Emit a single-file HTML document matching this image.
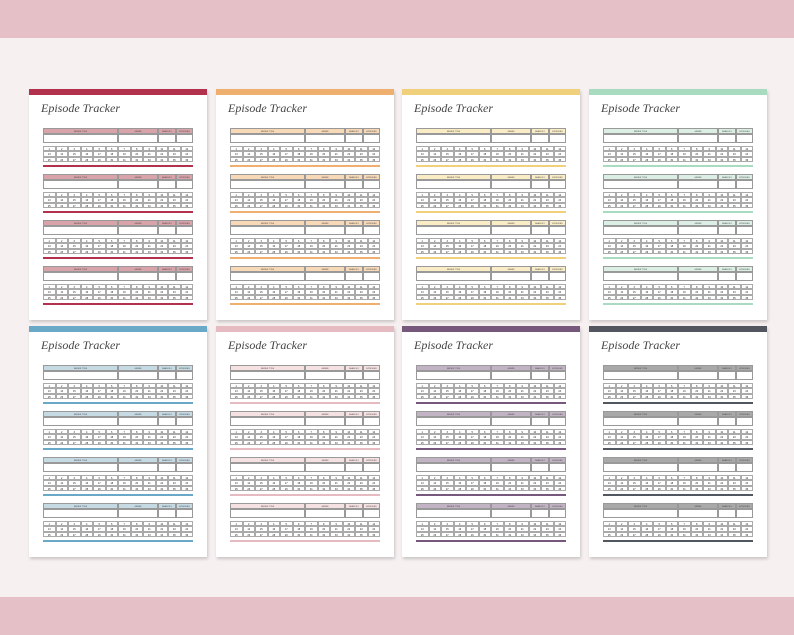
<!DOCTYPE html>
<html><head><meta charset="utf-8"><style>
body{margin:0;width:794px;height:635px;overflow:hidden;background:#f6f0f0;position:relative;font-family:"Liberation Sans",sans-serif}
.band{position:absolute;left:0;width:794px;background:#e5c1c7}
.page{position:absolute;width:178px;height:231px;background:#fff;box-shadow:1px 2px 3px rgba(0,0,0,.18)}
.stripe{position:absolute;left:0;top:0;width:178px;height:6px}
.ttl{position:absolute;left:12px;top:12px;font-family:"Liberation Serif",serif;font-style:italic;font-size:12px;color:#444}
.blk{position:absolute;left:14px;width:150px}
.hdr{position:absolute;top:0;height:6px;font-size:2px;color:#444;text-align:center;line-height:6px;box-sizing:border-box;border:0.5px solid #999}
.inp{position:absolute;top:6px;height:9px;box-sizing:border-box;border:0.5px solid #999;background:#fff}
.cell{position:absolute;height:5.3px;width:12.5px;box-sizing:border-box;border:0.5px solid #aaa;font-size:2.5px;text-align:center;line-height:5px;color:#222}
.ln{position:absolute;left:0;width:150px;height:1.5px;top:37px}
</style></head><body>
<div class="band" style="top:0;height:38px"></div>
<div class="band" style="top:597px;height:38px"></div>
<script>
const pageColors=[["#b2324d","#d9a3aa"],["#efaf6f","#f7d8b7"],["#f1d07b","#faecc5"],["#a8dbbf","#dcefe4"],["#69a8c7","#c5dae3"],["#e6bac1","#f5e1e2"],["#76587c","#c2b3c4"],["#52565e","#a9a9a9"]];
const xs=[29,216,402,589], ys=[89,326];
const cols=[[0,75,"SERIES TITLE"],[75,115,"GENRE"],[115,133,"SEASON #"],[133,150,"EPISODES"]];
pageColors.forEach((c,i)=>{
 const p=document.createElement('div');p.className='page';
 
 
 p.style.left=xs[i%4]+'px';p.style.top=ys[Math.floor(i/4)]+'px';
 let h='<div class="stripe" style="background:'+c[0]+'"></div><div class="ttl">Episode Tracker</div>';
 for(let b=0;b<4;b++){
  h+='<div class="blk" style="top:'+(39+b*46)+'px">';
  cols.forEach(cc=>{h+='<div class="hdr" style="left:'+cc[0]+'px;width:'+(cc[1]-cc[0])+'px;background:'+c[1]+'">'+cc[2]+'</div><div class="inp" style="left:'+cc[0]+'px;width:'+(cc[1]-cc[0])+'px"></div>';});
  for(let r=0;r<3;r++)for(let k=0;k<12;k++){h+='<div class="cell" style="left:'+(k*12.5)+'px;top:'+(18+r*5.3)+'px">'+(r*12+k+1)+'</div>';}
  h+='<div class="ln" style="background:'+c[0]+'"></div></div>';
 }
 p.innerHTML=h;document.body.appendChild(p);
});
</script>
</body></html>
